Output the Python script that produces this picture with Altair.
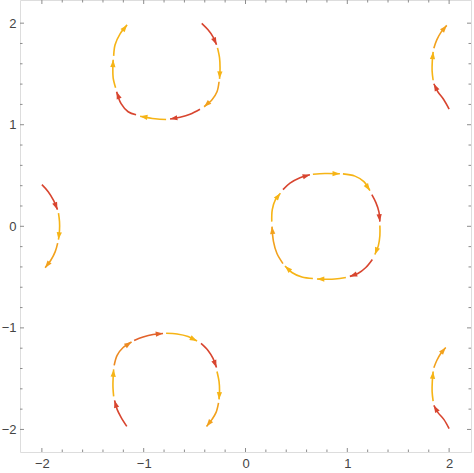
import math
import altair as alt
import pandas as pd

# ---------------- data ----------------
X_DOMAIN = [-2.215, 2.215]
Y_DOMAIN = [-2.222, 2.228]
MAJOR = [-2, -1, 0, 1, 2]
MINOR = [-1.8, -1.6, -1.4, -1.2, -0.8, -0.6, -0.4, -0.2,
         0.2, 0.4, 0.6, 0.8, 1.2, 1.4, 1.6, 1.8]

COLOR_KEYS = ["r", "ro", "o", "yo", "y"]
COLOR_VALUES = ["#d8452f", "#e2622a", "#ec8a22", "#f2a11c", "#f6b416"]

# each stream segment: (speed colour key, points in order of flow)
CENTRE_LOOP = [
    ("r",  [(0.368, 0.361), (0.437, 0.425), (0.535, 0.479), (0.633, 0.508)]),
    ("y",  [(0.662, 0.513), (0.780, 0.520), (0.927, 0.518)]),
    ("y",  [(0.957, 0.516), (1.075, 0.494), (1.163, 0.440), (1.222, 0.351)]),
    ("r",  [(1.241, 0.312), (1.281, 0.233), (1.310, 0.145), (1.320, 0.046)]),
    ("y",  [(1.320, 0.007), (1.320, -0.091), (1.305, -0.190), (1.271, -0.278)]),
    ("r",  [(1.246, -0.327), (1.182, -0.406), (1.104, -0.465), (1.025, -0.493)]),
    ("y",  [(0.986, -0.504), (0.878, -0.519), (0.702, -0.519)]),
    ("y",  [(0.662, -0.514), (0.554, -0.500), (0.456, -0.455), (0.388, -0.391)]),
    ("yo", [(0.368, -0.367), (0.309, -0.268), (0.275, -0.150), (0.260, -0.003)]),
    ("y",  [(0.258, 0.046), (0.263, 0.164), (0.294, 0.263), (0.343, 0.326)]),
]
UPPER_LOOP = [
    ("r",  [(-0.430, 1.998), (-0.368, 1.934), (-0.319, 1.865), (-0.285, 1.787)]),
    ("y",  [(-0.275, 1.757), (-0.255, 1.659), (-0.250, 1.561), (-0.255, 1.452)]),
    ("yo", [(-0.260, 1.423), (-0.280, 1.325), (-0.329, 1.246), (-0.407, 1.177)]),
    ("r",  [(-0.447, 1.152), (-0.545, 1.103), (-0.643, 1.074), (-0.741, 1.056)]),
    ("y",  [(-0.780, 1.051), (-0.888, 1.059), (-1.035, 1.084)]),
    ("r",  [(-1.075, 1.098), (-1.153, 1.128), (-1.222, 1.207), (-1.266, 1.325)]),
    ("y",  [(-1.276, 1.364), (-1.300, 1.462), (-1.303, 1.561), (-1.300, 1.639)]),
    ("y",  [(-1.295, 1.678), (-1.281, 1.787), (-1.232, 1.895), (-1.163, 1.983)]),
]
LOWER_LOOP = [
    ("r",  [(-1.166, -1.970), (-1.222, -1.881), (-1.261, -1.802), (-1.286, -1.714)]),
    ("y",  [(-1.295, -1.675), (-1.302, -1.576), (-1.300, -1.488), (-1.295, -1.409)]),
    ("o",  [(-1.290, -1.370), (-1.261, -1.271), (-1.202, -1.193), (-1.119, -1.139)]),
    ("ro", [(-1.094, -1.124), (-1.006, -1.090), (-0.908, -1.065), (-0.810, -1.055)]),
    ("y",  [(-0.780, -1.053), (-0.672, -1.060), (-0.564, -1.085), (-0.476, -1.129)]),
    ("r",  [(-0.437, -1.153), (-0.368, -1.222), (-0.319, -1.301), (-0.285, -1.389)]),
    ("y",  [(-0.280, -1.429), (-0.260, -1.527), (-0.255, -1.616), (-0.260, -1.704)]),
    ("yo", [(-0.265, -1.738), (-0.289, -1.832), (-0.329, -1.901), (-0.383, -1.970)]),
]
LEFT_ARC = [
    ("r",  [(-2.000, 0.410), (-1.938, 0.341), (-1.884, 0.253), (-1.847, 0.164)]),
    ("y",  [(-1.837, 0.130), (-1.827, 0.046), (-1.827, -0.042), (-1.837, -0.131)]),
    ("yo", [(-1.845, -0.165), (-1.869, -0.249), (-1.914, -0.337), (-1.968, -0.409)]),
]
RIGHT_UPPER_ARC = [
    ("r",  [(2.000, 1.154), (1.948, 1.246), (1.889, 1.325), (1.850, 1.403)]),
    ("y",  [(1.843, 1.438), (1.833, 1.531), (1.835, 1.629), (1.843, 1.718)]),
    ("yo", [(1.850, 1.754), (1.879, 1.836), (1.923, 1.914), (1.977, 1.978)]),
]
RIGHT_LOWER_ARC = [
    ("r",  [(2.000, -1.992), (1.948, -1.901), (1.889, -1.832), (1.850, -1.763)]),
    ("y",  [(1.843, -1.721), (1.833, -1.625), (1.835, -1.527), (1.843, -1.429)]),
    ("yo", [(1.850, -1.392), (1.879, -1.321), (1.918, -1.252), (1.967, -1.193)]),
]

STREAMS = CENTRE_LOOP + UPPER_LOOP + LOWER_LOOP + LEFT_ARC + RIGHT_UPPER_ARC + RIGHT_LOWER_ARC

# ---------------- tables ----------------
line_rows, arrow_rows = [], []
for sid, (ck, pts) in enumerate(STREAMS):
    for k, (x, y) in enumerate(pts):
        line_rows.append({"seg": sid, "k": k, "x": x, "y": y, "c": ck})
    (x1, y1), (x2, y2) = pts[-2], pts[-1]
    ang = math.degrees(math.atan2(x2 - x1, y2 - y1)) % 360
    arrow_rows.append({"x": x2, "y": y2, "angle": ang, "c": ck})

lines_df = pd.DataFrame(line_rows)
arrows_df = pd.DataFrame(arrow_rows)
major_df = pd.DataFrame({"v": MAJOR})
minor_df = pd.DataFrame({"v": MINOR})

W, H = 451, 452
FRAME = "#8c8c8c"

xs = alt.Scale(domain=X_DOMAIN, nice=False, zero=False)
ys = alt.Scale(domain=Y_DOMAIN, nice=False, zero=False)
x_axis = alt.Axis(values=MAJOR, title=None, ticks=False, tickSize=0, domain=False, grid=False,
                  labelFontSize=13, labelColor="#444444", labelPadding=5,
                  labelFont="Liberation Sans", format="d")
y_axis = alt.Axis(values=MAJOR, title=None, ticks=False, tickSize=0, domain=False, grid=False,
                  labelFontSize=13, labelColor="#444444", labelPadding=4,
                  labelFont="Liberation Sans", format="d")
cscale = alt.Scale(domain=COLOR_KEYS, range=COLOR_VALUES)

lines = alt.Chart(lines_df).mark_line(strokeWidth=1.6, interpolate="catmull-rom",
                                      strokeCap="butt").encode(
    x=alt.X("x:Q", scale=xs, axis=x_axis),
    y=alt.Y("y:Q", scale=ys, axis=y_axis),
    detail="seg:N",
    order="k:Q",
    color=alt.Color("c:N", scale=cscale, legend=None),
)

arrows = alt.Chart(arrows_df).mark_point(
    shape="M0,0L-0.75,2.1L0.75,2.1Z", filled=True, size=49, opacity=1, strokeWidth=0
).encode(
    x=alt.X("x:Q", scale=xs, axis=x_axis),
    y=alt.Y("y:Q", scale=ys, axis=y_axis),
    angle=alt.Angle("angle:Q", scale=None),
    color=alt.Color("c:N", scale=cscale, legend=None),
)


def xticks(df, length):
    bottom = alt.Chart(df).mark_rule(color=FRAME, strokeWidth=1).encode(
        x=alt.X("v:Q", scale=xs, axis=x_axis), y=alt.value(H), y2=alt.value(H - length))
    top = alt.Chart(df).mark_rule(color=FRAME, strokeWidth=1).encode(
        x=alt.X("v:Q", scale=xs, axis=x_axis), y=alt.value(0), y2=alt.value(length))
    return [bottom, top]


def yticks(df, length):
    left = alt.Chart(df).mark_rule(color=FRAME, strokeWidth=1).encode(
        y=alt.Y("v:Q", scale=ys, axis=y_axis), x=alt.value(0), x2=alt.value(length))
    right = alt.Chart(df).mark_rule(color=FRAME, strokeWidth=1).encode(
        y=alt.Y("v:Q", scale=ys, axis=y_axis), x=alt.value(W), x2=alt.value(W - length))
    return [left, right]


layers = xticks(major_df, 4) + xticks(minor_df, 2.5) + yticks(major_df, 4) + yticks(minor_df, 2.5)

chart = alt.layer(*layers, lines, arrows).properties(
    width=W, height=H,
    autosize=alt.AutoSizeParams(type="none"),
    padding={"left": 20, "top": 0, "right": 3, "bottom": 21},
).configure_view(stroke=FRAME, strokeWidth=1).configure(background="white")

chart.save("out.html", embed_options={"renderer": "svg", "actions": False})
